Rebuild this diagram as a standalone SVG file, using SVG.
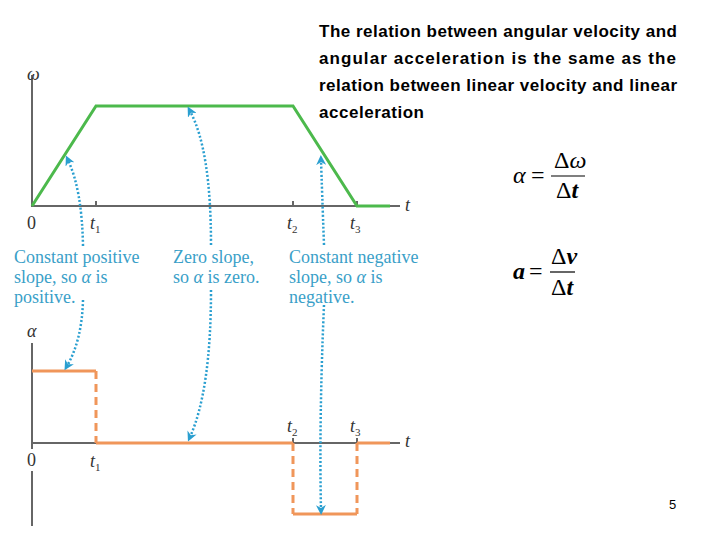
<svg xmlns="http://www.w3.org/2000/svg" width="720" height="540" viewBox="0 0 720 540">
<style>
.ax{stroke:#666;stroke-width:2;fill:none}
.g{stroke:#4cb94c;stroke-width:3;fill:none;stroke-linejoin:miter}
.o{stroke:#f0965a;stroke-width:3;fill:none}
.od{stroke:#f0965a;stroke-width:3;fill:none;stroke-dasharray:8,5}
.bl{stroke:#2a9fd0;stroke-width:2.5;fill:none;stroke-dasharray:2,2}
.lb{font-family:'Liberation Serif',serif;font-size:18px;fill:#3aa0c8}
.it{font-family:'Liberation Serif',serif;font-style:italic;font-size:18px;fill:#333}
.n{font-family:'Liberation Serif',serif;font-size:18px;fill:#333}
.sub{font-style:normal;font-size:11px}
.tt{font-family:'Liberation Sans',Arial,sans-serif;font-size:17px;font-weight:bold;fill:#000}
.m{font-family:'Liberation Serif',serif;font-size:24px;fill:#000}
</style>
<defs>
<marker id="ah" viewBox="0 0 10 10" refX="5" refY="5" markerWidth="4" markerHeight="4" orient="auto"><path d="M0,0 L10,5 L0,10 L3,5 z" fill="#2a9fd0"/></marker>
</defs>
<rect width="720" height="540" fill="#fff"/>
<g id="title">
<text class="tt" x="319" y="37" textLength="358" lengthAdjust="spacing">The relation between angular velocity and</text>
<text class="tt" x="319" y="64" textLength="357" lengthAdjust="spacing">angular acceleration is the same as the</text>
<text class="tt" x="319" y="91" textLength="358" lengthAdjust="spacing">relation between linear velocity and linear</text>
<text class="tt" x="319" y="118" textLength="105" lengthAdjust="spacing">acceleration</text>
</g>
<g id="formula1">
<text class="m" x="513" y="183" font-style="italic">α</text>
<text class="m" x="531" y="183">=</text>
<text class="m" x="554" y="168">Δ<tspan font-style="italic">ω</tspan></text>
<line x1="551" y1="176" x2="585" y2="176" stroke="#000" stroke-width="1.2"/>
<text class="m" x="556" y="198">Δ<tspan font-style="italic" font-weight="bold">t</tspan></text>
</g>
<g id="formula2">
<text class="m" x="513" y="279" font-style="italic" font-weight="bold">a</text>
<text class="m" x="529" y="279">=</text>
<text class="m" x="551" y="264">Δ<tspan font-style="italic" font-weight="bold">v</tspan></text>
<line x1="550" y1="272" x2="575" y2="272" stroke="#000" stroke-width="1.2"/>
<text class="m" x="551" y="295">Δ<tspan font-style="italic" font-weight="bold">t</tspan></text>
</g>
<g id="top-graph">
<path class="ax" d="M32,75 V206 H400"/>
<path class="ax" d="M96,201 V206 M293,201 V206 M357,201 V206"/>
<path class="g" d="M32,206 L96,106 L293,106 L357,206 L390,206"/>
<text class="it" x="27" y="80">ω</text>
<text class="it" x="405" y="211">t</text>
<text class="n" x="27" y="229">0</text>
<text class="it" x="90" y="229">t<tspan class="sub" dy="4">1</tspan></text>
<text class="it" x="287" y="229">t<tspan class="sub" dy="4">2</tspan></text>
<text class="it" x="350" y="229">t<tspan class="sub" dy="4">3</tspan></text>
</g>
<g id="bottom-graph">
<path class="ax" d="M32,343 V449 M32,471 V526 M32,443 H400"/>
<path class="ax" d="M96,438 V443 M293,438 V443 M357,438 V443"/>
<path class="o" d="M32,371 H96 M96,443 H293 M293,514 H357 M357,443 H390"/>
<path class="od" d="M96,371 V443 M293,443 V514 M357,443 V514"/>
<text class="it" x="27" y="337">α</text>
<text class="it" x="405" y="447">t</text>
<text class="n" x="27" y="466">0</text>
<text class="it" x="90" y="467">t<tspan class="sub" dy="4">1</tspan></text>
<text class="it" x="287" y="432">t<tspan class="sub" dy="4">2</tspan></text>
<text class="it" x="350" y="432">t<tspan class="sub" dy="4">3</tspan></text>
</g>
<g id="labels">
<text class="lb" x="14" y="263">Constant positive</text>
<text class="lb" x="14" y="283">slope, so <tspan font-style="italic">α</tspan> is</text>
<text class="lb" x="14" y="303">positive.</text>
<text class="lb" x="173" y="263">Zero slope,</text>
<text class="lb" x="173" y="283">so <tspan font-style="italic">α</tspan> is zero.</text>
<text class="lb" x="289" y="263">Constant negative</text>
<text class="lb" x="289" y="283">slope, so <tspan font-style="italic">α</tspan> is</text>
<text class="lb" x="289" y="303">negative.</text>
</g>
<g id="connectors">
<path class="bl" d="M83,246 Q82,190 68,160" marker-end="url(#ah)"/>
<path class="bl" d="M83,300 Q82,340 67,366" marker-end="url(#ah)"/>
<path class="bl" d="M211,245 Q211,150 190,111" marker-end="url(#ah)"/>
<path class="bl" d="M211,290 Q211,390 190,437" marker-end="url(#ah)"/>
<path class="bl" d="M324,245 Q322,190 321,160" marker-end="url(#ah)"/>
<path class="bl" d="M324,305 Q319,420 321,510" marker-end="url(#ah)"/>
</g>
<text x="669" y="509" font-family="Liberation Sans,Arial,sans-serif" font-size="13">5</text>
</svg>
